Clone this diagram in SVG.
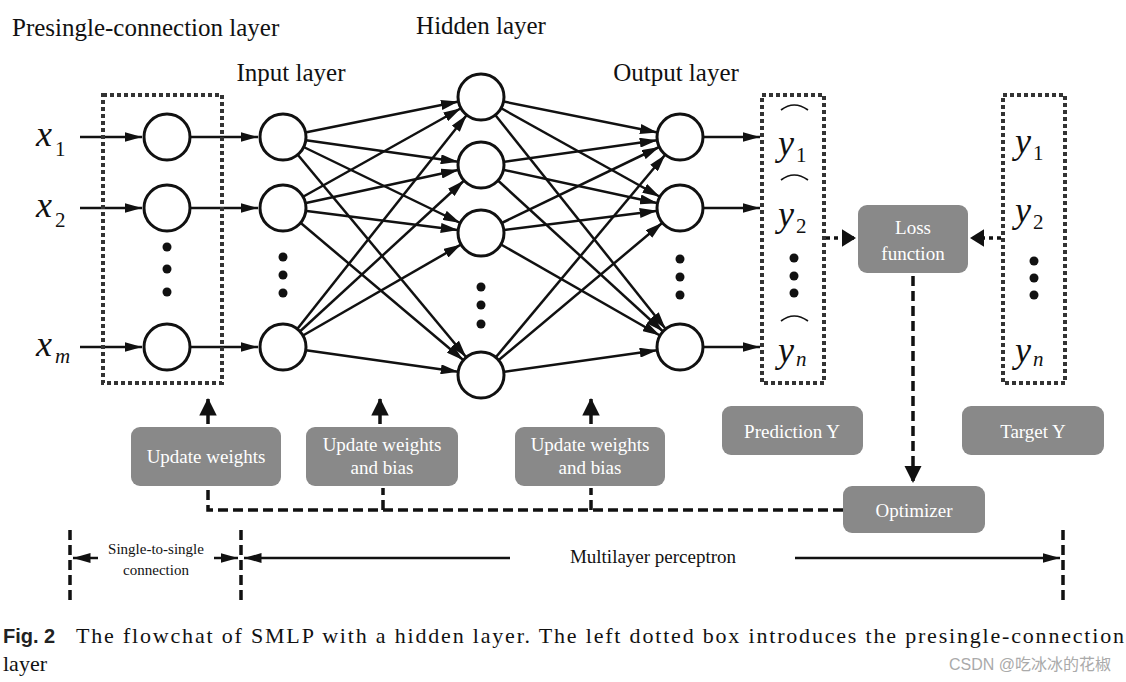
<svg xmlns="http://www.w3.org/2000/svg" width="1126" height="682" viewBox="0 0 1126 682">
<style>
.t{font-family:"Liberation Serif",serif;fill:#111}
.v{font-family:"Liberation Serif",serif;font-style:italic;font-size:36px;fill:#111}
.s{font-family:"Liberation Serif",serif;font-size:21px;fill:#111}
.si{font-family:"Liberation Serif",serif;font-style:italic;font-size:21px;fill:#111}
.n{fill:#fff;stroke:#111;stroke-width:3}
.w{stroke:#111;stroke-width:2.5;fill:none}
.dot{fill:#111}
.box{fill:none;stroke:#333;stroke-width:4;stroke-dasharray:4 3}
.g{fill:#898989}
.gt{font-family:"Liberation Serif",serif;fill:#fff;font-size:19px;text-anchor:middle}
.dash{stroke:#111;stroke-width:3.5;stroke-dasharray:10 5;fill:none}
.dotl{stroke:#111;stroke-width:3.5;stroke-dasharray:4 4;fill:none}
</style>
<defs>
<marker id="h" markerWidth="8" markerHeight="4" refX="16.2" refY="2" orient="auto" markerUnits="strokeWidth"><path d="M0,0 L7,2 L0,4z" fill="#111"/></marker>
<marker id="a" markerWidth="8" markerHeight="4" refX="7" refY="2" orient="auto" markerUnits="strokeWidth"><path d="M0,0 L7,2 L0,4z" fill="#111"/></marker>
<marker id="b" markerWidth="5" markerHeight="5" refX="4" refY="2.5" orient="auto" markerUnits="strokeWidth"><path d="M0,0 L4,2.5 L0,5z" fill="#111"/></marker>
<marker id="c" markerWidth="6" markerHeight="6" refX="5" refY="3" orient="auto" markerUnits="strokeWidth"><path d="M0,0.5 L5,3 L0,5.5z" fill="#111"/></marker>
</defs>

<g id="titles">
<text class="t" x="12" y="36" font-size="25">Presingle-connection layer</text>
<text class="t" x="481" y="34" font-size="25" text-anchor="middle">Hidden layer</text>
<text class="t" x="291" y="81" font-size="25" text-anchor="middle">Input layer</text>
<text class="t" x="676" y="81" font-size="25" text-anchor="middle">Output layer</text>
</g>

<g id="connectors">
<line class="w" x1="80" y1="137" x2="142" y2="137" marker-end="url(#a)"/>
<line class="w" x1="80" y1="208" x2="142" y2="208" marker-end="url(#a)"/>
<line class="w" x1="80" y1="347" x2="142" y2="347" marker-end="url(#a)"/>
<line class="w" x1="190" y1="137" x2="258" y2="137" marker-end="url(#a)"/>
<line class="w" x1="190" y1="208" x2="258" y2="208" marker-end="url(#a)"/>
<line class="w" x1="190" y1="347" x2="258" y2="347" marker-end="url(#a)"/>
<line class="w" x1="703" y1="137" x2="760" y2="137" marker-end="url(#a)"/>
<line class="w" x1="703" y1="208" x2="760" y2="208" marker-end="url(#a)"/>
<line class="w" x1="703" y1="347" x2="760" y2="347" marker-end="url(#a)"/>
<g marker-end="url(#h)">
<line class="w" x1="283" y1="137" x2="481" y2="97"/><line class="w" x1="283" y1="137" x2="481" y2="165"/><line class="w" x1="283" y1="137" x2="481" y2="233"/><line class="w" x1="283" y1="137" x2="481" y2="375"/>
<line class="w" x1="283" y1="208" x2="481" y2="97"/><line class="w" x1="283" y1="208" x2="481" y2="165"/><line class="w" x1="283" y1="208" x2="481" y2="233"/><line class="w" x1="283" y1="208" x2="481" y2="375"/>
<line class="w" x1="283" y1="347" x2="481" y2="97"/><line class="w" x1="283" y1="347" x2="481" y2="165"/><line class="w" x1="283" y1="347" x2="481" y2="233"/><line class="w" x1="283" y1="347" x2="481" y2="375"/>
<line class="w" x1="481" y1="97" x2="680" y2="137"/><line class="w" x1="481" y1="97" x2="680" y2="208"/><line class="w" x1="481" y1="97" x2="680" y2="347"/>
<line class="w" x1="481" y1="165" x2="680" y2="137"/><line class="w" x1="481" y1="165" x2="680" y2="208"/><line class="w" x1="481" y1="165" x2="680" y2="347"/>
<line class="w" x1="481" y1="233" x2="680" y2="137"/><line class="w" x1="481" y1="233" x2="680" y2="208"/><line class="w" x1="481" y1="233" x2="680" y2="347"/>
<line class="w" x1="481" y1="375" x2="680" y2="137"/><line class="w" x1="481" y1="375" x2="680" y2="208"/><line class="w" x1="481" y1="375" x2="680" y2="347"/>
</g>
<line class="dotl" x1="826" y1="238" x2="856" y2="238" marker-end="url(#b)"/>
<line class="dotl" x1="1001" y1="238" x2="970" y2="238" marker-end="url(#b)"/>
<line class="dash" x1="913" y1="276" x2="913" y2="483" marker-end="url(#c)"/>
<polyline class="dash" points="843,510 208,510 208,488"/>
<line class="dash" x1="383" y1="510" x2="383" y2="488"/>
<line class="dash" x1="591" y1="510" x2="591" y2="488"/>
<line class="dash" x1="208" y1="424" x2="208" y2="398" marker-end="url(#c)"/>
<line class="dash" x1="380" y1="424" x2="380" y2="398" marker-end="url(#c)"/>
<line class="dash" x1="591" y1="424" x2="591" y2="398" marker-end="url(#c)"/>
<line class="dash" stroke-width="2.5" x1="70" y1="530" x2="70" y2="600"/>
<line class="dash" stroke-width="2.5" x1="241" y1="530" x2="241" y2="600"/>
<line class="dash" stroke-width="2.5" x1="1063" y1="530" x2="1063" y2="600"/>
<line class="w" x1="98" y1="558" x2="73" y2="558" marker-end="url(#a)"/>
<line class="w" x1="214" y1="558" x2="238" y2="558" marker-end="url(#a)"/>
<line class="w" x1="510" y1="558" x2="244" y2="558" marker-end="url(#a)"/>
<line class="w" x1="795" y1="558" x2="1060" y2="558" marker-end="url(#a)"/>
</g>

<g id="presingle">
<rect class="box" x="103" y="95" width="119" height="288"/>
<circle class="n" cx="167" cy="137" r="23"/><circle class="n" cx="167" cy="208" r="23"/><circle class="n" cx="167" cy="347" r="23"/>
<circle class="dot" cx="167" cy="247" r="4.5"/><circle class="dot" cx="167" cy="269" r="4.5"/><circle class="dot" cx="167" cy="292" r="4.5"/>
</g>
<g id="inputs">
<text class="v" x="36" y="146">x</text><text class="s" x="55" y="156">1</text>
<text class="v" x="36" y="217">x</text><text class="s" x="55" y="227">2</text>
<text class="v" x="36" y="356">x</text><text class="si" x="55" y="363">m</text>
</g>
<g id="input-layer">
<circle class="n" cx="283" cy="137" r="23"/><circle class="n" cx="283" cy="208" r="23"/><circle class="n" cx="283" cy="347" r="23"/>
<circle class="dot" cx="283" cy="257" r="4.5"/><circle class="dot" cx="283" cy="275" r="4.5"/><circle class="dot" cx="283" cy="293" r="4.5"/>
</g>
<g id="hidden-layer">
<circle class="n" cx="481" cy="97" r="23"/><circle class="n" cx="481" cy="165" r="23"/><circle class="n" cx="481" cy="233" r="23"/><circle class="n" cx="481" cy="375" r="23"/>
<circle class="dot" cx="481" cy="287" r="4.5"/><circle class="dot" cx="481" cy="305" r="4.5"/><circle class="dot" cx="481" cy="324" r="4.5"/>
</g>
<g id="output-layer">
<circle class="n" cx="680" cy="137" r="23"/><circle class="n" cx="680" cy="208" r="23"/><circle class="n" cx="680" cy="347" r="23"/>
<circle class="dot" cx="680" cy="259" r="4.5"/><circle class="dot" cx="680" cy="277" r="4.5"/><circle class="dot" cx="680" cy="295" r="4.5"/>
</g>
<g id="prediction">
<rect class="box" x="762" y="95" width="62" height="288"/>
<path d="M781,110 Q794,100 808,110 M781,180 Q794,170 808,180 M781,321 Q794,311 808,321" stroke="#111" stroke-width="1.6" fill="none"/>
<text class="v" x="778" y="155">y</text><text class="s" x="796" y="162">1</text>
<text class="v" x="778" y="226">y</text><text class="s" x="796" y="233">2</text>
<circle class="dot" cx="794" cy="258" r="4.5"/><circle class="dot" cx="794" cy="276" r="4.5"/><circle class="dot" cx="794" cy="293" r="4.5"/>
<text class="v" x="778" y="362">y</text><text class="si" x="796" y="366">n</text>
</g>
<g id="target">
<rect class="box" x="1003" y="95" width="62" height="288"/>
<text class="v" x="1015" y="153">y</text><text class="s" x="1033" y="160">1</text>
<text class="v" x="1015" y="222">y</text><text class="s" x="1033" y="229">2</text>
<circle class="dot" cx="1034" cy="261" r="4.5"/><circle class="dot" cx="1034" cy="278" r="4.5"/><circle class="dot" cx="1034" cy="295" r="4.5"/>
<text class="v" x="1015" y="362">y</text><text class="si" x="1033" y="366">n</text>
</g>
<g id="loss"><rect class="g" x="858" y="205" width="110" height="68" rx="9"/><text class="gt" x="913" y="234">Loss</text><text class="gt" x="913" y="260">function</text></g>
<g id="optimizer"><rect class="g" x="843" y="486" width="142" height="47" rx="9"/><text class="gt" x="914" y="517" font-size="20">Optimizer</text></g>
<g id="predY"><rect class="g" x="722" y="406" width="141" height="49" rx="9"/><text class="gt" x="792" y="438" font-size="20">Prediction Y</text></g>
<g id="targetY"><rect class="g" x="962" y="406" width="142" height="49" rx="9"/><text class="gt" x="1033" y="438" font-size="20">Target Y</text></g>
<g id="upd1"><rect class="g" x="131" y="427" width="150" height="59" rx="9"/><text class="gt" x="206" y="463">Update weights</text></g>
<g id="upd2"><rect class="g" x="306" y="427" width="152" height="59" rx="9"/><text class="gt" x="382" y="451">Update weights</text><text class="gt" x="382" y="474">and bias</text></g>
<g id="upd3"><rect class="g" x="515" y="427" width="150" height="59" rx="9"/><text class="gt" x="590" y="451">Update weights</text><text class="gt" x="590" y="474">and bias</text></g>
<g id="spans">
<text class="t" x="156" y="554" font-size="15" text-anchor="middle">Single-to-single</text>
<text class="t" x="156" y="575" font-size="15" text-anchor="middle">connection</text>
<text class="t" x="653" y="563" font-size="19" text-anchor="middle">Multilayer perceptron</text>
</g>
<g id="caption">
<text x="3" y="643" font-family="Liberation Sans,sans-serif" font-weight="bold" font-size="20" fill="#222">Fig. 2</text>
<text class="t" x="76" y="643" font-size="22" textLength="1048">The flowchat of SMLP with a hidden layer. The left dotted box introduces the presingle-connection</text>
<text class="t" x="3" y="671" font-size="22">layer</text>
<text x="1111" y="670" font-family="Liberation Sans,'Noto Sans CJK SC',sans-serif" font-size="16" fill="#aaa" text-anchor="end">CSDN @吃冰冰的花椒</text>
</g>
</svg>
